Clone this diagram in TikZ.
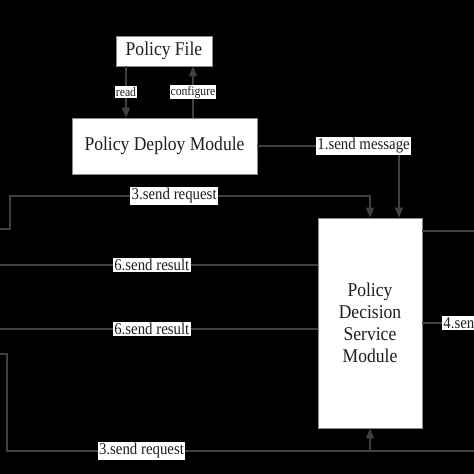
\documentclass[tikz,border=0pt]{standalone}
\usepackage{fontspec}
\setmainfont{Liberation Serif}
\newfontfamily\tallserif[FakeStretch=0.9]{Liberation Serif}
\usetikzlibrary{arrows.meta}
\definecolor{linegray}{HTML}{404040}
\definecolor{boxedge}{HTML}{8A8A8A}
\definecolor{txt}{HTML}{1E1E1E}
\begin{document}
\begin{tikzpicture}[x=1pt,y=-1pt,
  box/.style={draw=boxedge, line width=0.8pt, fill=white, inner sep=0pt, text=txt,
    font=\tallserif\fontsize{19.5}{22}\selectfont, align=center},
  conn/.style={draw=linegray, line width=1.4pt},
  arr/.style={-{Triangle[length=10pt,width=8pt]}},
  lbl/.style={fill=white, inner sep=1.2pt, text=txt, font=\tallserif\fontsize{16.5}{18}\selectfont},
  slbl/.style={fill=white, inner sep=1pt, text=txt, font=\tallserif\fontsize{13}{14}\selectfont}]
\useasboundingbox (0,0) rectangle (474,474);
\clip (0,0) rectangle (474,474);
\fill[black] (0,0) rectangle (474,474);

\node[box, minimum width=96pt, minimum height=30pt] (pf) at (164,51) {Policy File};
\node[box, minimum width=185pt, minimum height=56pt] (pdm) at (164.5,146) {Policy Deploy Module};
\node[box, minimum width=104pt, minimum height=210pt] (pdsm) at (370,323) {Policy\\Decision\\Service\\Module};

% read / configure
\draw[conn,arr] ([xshift=-38pt]pf.south) -- node[slbl]{read} ([xshift=-38pt]pf.south |- pdm.north);
\draw[conn,arr] ([xshift=29pt]pf.south |- pdm.north) -- node[slbl]{configure} ([xshift=29pt]pf.south);

% 1.send message
\draw[conn,arr] (pdm.east) -| node[pos=0.375,lbl]{1.send message} ([xshift=29pt]pdsm.north);

% 3.send request (top)
\coordinate (t0) at (0,229);
\draw[conn,arr] (t0) -- (10,229) -- (10,196) -- node[pos=0.456,lbl]{3.send request} (370,196) -- (pdsm.north);

% right line
\coordinate (r1) at (474,231);
\draw[conn] (pdsm.east |- r1) -- (r1);

% 6.send result
\coordinate (u0) at (0,265);
\draw[conn] (u0) -- node[pos=0.478,lbl]{6.send result} (pdsm.west |- u0);
\coordinate (w0) at (0,329);
\draw[conn] (w0) -- node[pos=0.478,lbl]{6.send result} (pdsm.west |- w0);

% 4.sen
\node[lbl, anchor=west] (l4) at (442,323) {4.sen};
\draw[conn] (pdsm.east |- l4) -- (l4.west);

% 3.send request (bottom)
\coordinate (b0) at (0,354);
\coordinate (b1) at (474,451);
\draw[conn] (b0) -- (7,354) -- (7,451) -- node[pos=0.288,lbl]{3.send request} (b1);
\draw[conn,arr] (pdsm.south |- b1) -- (pdsm.south);
\end{tikzpicture}
\end{document}
